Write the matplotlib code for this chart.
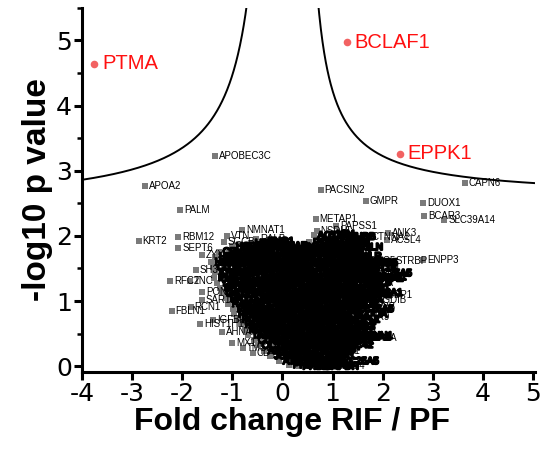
#====================================================================================
# Volcano plot RIF x PF (fold change x -log10 p value)
#====================================================================================
import numpy as np
import matplotlib.pyplot as plt
import matplotlib.patheffects as pe
from matplotlib.ticker import MultipleLocator

plt.rcParams['font.family'] = ['Liberation Sans', 'DejaVu Sans']
plt.rcParams['axes.unicode_minus'] = False

#------------------------------------------------------------------------------------
# Proteinas significativas (vermelho)
sig_genes = ['PTMA', 'BCLAF1', 'EPPK1']
sig_x = [-3.75, 1.29, 2.35]
sig_y = [4.64, 4.97, 3.26]

#------------------------------------------------------------------------------------
# Proteinas com rotulo legivel
named_genes = ['APOBEC3C', 'APOA2', 'PALM', 'KRT2', 'RBM12', 'SEPT6', 'NMNAT1', 'VTN',
               'RALB', 'SGCB', 'GUSBP12', 'ZYX', 'FCGBP', 'SH3BGRL', 'RFC2', 'TNC',
               'PON2', 'SAR1B', 'FBLN1', 'RCN1', 'HIST1H1C', 'IGFBP7', 'AHNAK', 'MX1',
               'TMSB10', 'CD44',
               'PACSIN2', 'GMPR', 'DUOX1', 'BCAR3', 'SLC39A14', 'CAPN6', 'METAP1',
               'PAPSS1', 'NSDHL', 'ANK3', 'ACSL4', 'CTNNA1', 'ENPP3', 'STRBP', 'ABCC5',
               'PHGDH', 'ATP5H', 'TMEM120A', 'TP53BP1', 'ARHGDIB', 'SEC22B', 'SNX9',
               'KIAA0100', 'TMEM45A', 'ANXA1', 'CBX3', 'DH1924']
named_x = [-1.35, -2.74, -2.04, -2.87, -2.08, -2.08, -0.80, -1.11,
           -0.52, -1.17, -0.75, -1.61, -1.04, -1.73, -2.24, -1.85,
           -1.61, -1.61, -2.21, -1.83, -1.64, -1.39, -1.21, -1.01,
           -0.79, -0.59,
           0.76, 1.66, 2.80, 2.82, 3.23, 3.64, 0.66,
           1.07, 0.68, 2.10, 2.08, 1.70, 2.80, 2.18, 1.54,
           1.55, 1.57, 1.12, 1.70, 1.52, 1.43, 1.55,
           0.92, 1.30, 0.85, 0.77, 0.85]
named_y = [3.22, 2.76, 2.40, 1.92, 1.99, 1.81, 2.09, 2.00,
           1.95, 1.91, 1.78, 1.71, 1.66, 1.48, 1.31, 1.30,
           1.14, 1.02, 0.85, 0.91, 0.64, 0.71, 0.53, 0.36,
           0.28, 0.20,
           2.70, 2.53, 2.51, 2.31, 2.24, 2.81, 2.26,
           2.15, 2.07, 2.04, 1.94, 1.99, 1.63, 1.62, 1.62,
           1.53, 1.40, 1.28, 1.10, 1.02, 0.91, 0.76,
           0.55, 0.43, 0.24, 0.14, 0.00]

#------------------------------------------------------------------------------------
# Nuvem central (rotulos sobrepostos)
blob_x = [
    0.62, 0.83, 1.01, 1.26,
    -0.63, -0.38, 0.53, 0.76, 0.94, 1.17,
    -1.01, -0.57, -0.29, 0.16, 0.42, 0.60, 0.85, 1.03, 1.29,
    -1.27, -1.06, -0.80, -0.59, -0.33, -0.12, 0.14, 0.33, 0.59, 0.78, 1.03, 1.21,
    -1.35, -1.13, -0.88, -0.67, -0.42, -0.22, 0.04, 0.23, 0.49, 0.69, 0.94, 1.13, 1.38,
    -1.43, -1.18, -0.97, -0.71, -0.52, -0.26, -0.06, 0.20, 0.39, 0.65, 0.85, 1.10, 1.30, 1.56,
    -1.39, -1.17, -0.91, -0.71, -0.45, -0.25, 0.01, 0.21, 0.47, 0.67, 0.93, 1.12, 1.38, 1.59,
    -1.34, -1.08, -0.88, -0.62, -0.42, -0.16, 0.04, 0.30, 0.50, 0.76, 0.96, 1.22, 1.42, 1.67,
    -1.36, -1.15, -0.89, -0.69, -0.43, -0.23, 0.03, 0.23, 0.49, 0.69, 0.95, 1.15, 1.41, 1.61,
    -1.31, -1.05, -0.85, -0.59, -0.39, -0.13, 0.07, 0.33, 0.53, 0.79, 0.99, 1.25, 1.45,
    -1.25, -1.04, -0.78, -0.58, -0.32, -0.12, 0.14, 0.34, 0.60, 0.80, 1.06, 1.26, 1.53,
    -1.21, -0.95, -0.75, -0.49, -0.29, -0.03, 0.17, 0.43, 0.63, 0.89, 1.09, 1.35, 1.57,
    -1.13, -0.92, -0.66, -0.46, -0.20, 0.00, 0.26, 0.46, 0.72, 0.92, 1.18, 1.39,
    -1.09, -0.83, -0.63, -0.37, -0.17, 0.09, 0.29, 0.55, 0.75, 1.01, 1.21, 1.46,
    -0.99, -0.78, -0.52, -0.32, -0.06, 0.14, 0.40, 0.60, 0.86, 1.06, 1.31,
    -0.96, -0.70, -0.50, -0.24, -0.04, 0.22, 0.42, 0.68, 0.88, 1.14, 1.35,
    -0.89, -0.68, -0.42, -0.22, 0.04, 0.24, 0.50, 0.70, 0.96, 1.16, 1.39,
    -0.83, -0.57, -0.37, -0.11, 0.09, 0.35, 0.55, 0.81, 1.01, 1.26,
    -0.75, -0.54, -0.28, -0.08, 0.18, 0.38, 0.64, 0.84, 1.10, 1.27,
    -0.69, -0.43, -0.23, 0.03, 0.23, 0.49, 0.69, 0.95, 1.15, 1.33,
    -0.57, -0.36, -0.10, 0.10, 0.36, 0.56, 0.82, 1.02, 1.23,
    -0.49, -0.23, -0.03, 0.23, 0.43, 0.69, 0.89, 1.09,
    -0.37, -0.16, 0.10, 0.30, 0.56, 0.76, 0.99,
    -0.25, 0.01, 0.21, 0.47, 0.67, 0.92,
    -0.07, 0.14, 0.40, 0.60, 0.86, 1.01,
    0.13, 0.32, 0.56, 0.75, 0.99,
]
blob_y = [
    2.01, 1.98, 2.03, 1.99,
    1.89, 1.92, 1.90, 1.88, 1.91, 1.89,
    1.84, 1.82, 1.85, 1.83, 1.80, 1.84, 1.82, 1.85, 1.83,
    1.76, 1.74, 1.77, 1.75, 1.73, 1.76, 1.74, 1.77, 1.75, 1.73, 1.76, 1.74,
    1.68, 1.66, 1.69, 1.67, 1.65, 1.68, 1.66, 1.69, 1.67, 1.65, 1.68, 1.66, 1.69,
    1.60, 1.58, 1.61, 1.59, 1.57, 1.60, 1.58, 1.61, 1.59, 1.57, 1.60, 1.58, 1.61, 1.59,
    1.52, 1.50, 1.53, 1.51, 1.49, 1.52, 1.50, 1.53, 1.51, 1.49, 1.52, 1.50, 1.53, 1.51,
    1.44, 1.42, 1.45, 1.43, 1.41, 1.44, 1.42, 1.45, 1.43, 1.41, 1.44, 1.42, 1.45, 1.43,
    1.36, 1.34, 1.37, 1.35, 1.33, 1.36, 1.34, 1.37, 1.35, 1.33, 1.36, 1.34, 1.37, 1.35,
    1.28, 1.26, 1.29, 1.27, 1.25, 1.28, 1.26, 1.29, 1.27, 1.25, 1.28, 1.26, 1.29,
    1.20, 1.18, 1.21, 1.19, 1.17, 1.20, 1.18, 1.21, 1.19, 1.17, 1.20, 1.18, 1.21,
    1.12, 1.10, 1.13, 1.11, 1.09, 1.12, 1.10, 1.13, 1.11, 1.09, 1.12, 1.10, 1.13,
    1.04, 1.02, 1.05, 1.03, 1.01, 1.04, 1.02, 1.05, 1.03, 1.01, 1.04, 1.02,
    0.96, 0.94, 0.97, 0.95, 0.93, 0.96, 0.94, 0.97, 0.95, 0.93, 0.96, 0.94,
    0.88, 0.86, 0.89, 0.87, 0.85, 0.88, 0.86, 0.89, 0.87, 0.85, 0.88,
    0.80, 0.78, 0.81, 0.79, 0.77, 0.80, 0.78, 0.81, 0.79, 0.77, 0.80,
    0.72, 0.70, 0.73, 0.71, 0.69, 0.72, 0.70, 0.73, 0.71, 0.69, 0.72,
    0.64, 0.62, 0.65, 0.63, 0.61, 0.64, 0.62, 0.65, 0.63, 0.61,
    0.56, 0.54, 0.57, 0.55, 0.53, 0.56, 0.54, 0.57, 0.55, 0.53,
    0.48, 0.46, 0.49, 0.47, 0.45, 0.48, 0.46, 0.49, 0.47, 0.45,
    0.40, 0.38, 0.41, 0.39, 0.37, 0.40, 0.38, 0.41, 0.39,
    0.32, 0.30, 0.33, 0.31, 0.29, 0.32, 0.30, 0.33,
    0.24, 0.22, 0.25, 0.23, 0.21, 0.24, 0.22,
    0.16, 0.14, 0.17, 0.15, 0.13, 0.16,
    0.08, 0.06, 0.09, 0.07, 0.05, 0.08,
    0.02, 0.00, 0.01, 0.00, 0.02,
]
blob_genes = ['ACTB', 'GAPDH', 'VIM', 'TUBB', 'HSPA8', 'ENO1', 'PKM', 'LDHA', 'ALDOA',
              'PGK1', 'HSP90AB1', 'EEF1A1', 'YWHAZ', 'ANXA2', 'S100A6', 'LMNA', 'MYH9',
              'FLNA', 'TAGLN', 'CFL1', 'PFN1', 'TPM1', 'CALD1', 'ACTN4', 'CAPZB',
              'SPTBN1', 'VCL', 'TLN1', 'RPLP0', 'RPS3', 'RPL7', 'HNRNPA1', 'HNRNPK',
              'NPM1', 'NCL', 'PRDX1', 'PRDX2', 'SOD1', 'GSTP1', 'TKT', 'TALDO1', 'PPIA',
              'PPIB', 'CALR', 'HSPA5', 'PDIA3', 'P4HB', 'CANX', 'SERPINH1', 'COL1A1',
              'COL6A1', 'FN1', 'LGALS1', 'TXN', 'PARK7', 'UBB', 'PSMA1', 'PSMB5', 'CCT2',
              'CCT5', 'TCP1', 'EIF4A1', 'EIF5A', 'RAN', 'RAC1', 'RHOA', 'CDC42', 'ARF1',
              'GDI2', 'SFN', 'KRT8', 'KRT18', 'KRT19', 'DSP', 'JUP', 'PKP3', 'CLIC1',
              'ANXA5', 'MDH2', 'IDH1', 'ATP5A1', 'VDAC1', 'HADHA', 'ACO2', 'CS',
              'SLC25A5', 'PHB', 'PHB2']
assert len(blob_x) == len(blob_y)

# Curva de corte (y = y0 + c / (|x| - x0)), ramo esquerdo e direito
curve_left = {'x0': 0.16, 'c': 1.73, 'y0': 2.41}
curve_right = {'x0': 0.36, 'c': 1.05, 'y0': 2.585}

#====================================================================================
#                                     Plot
#------------------------------------------------------------------------------------
fig = plt.figure(figsize=(5.5, 4.63), dpi=100)
ax = fig.add_axes([0.149, 0.1965, 0.824, 0.7865])

all_x = blob_x + named_x
all_y = blob_y + named_y
ax.scatter(all_x, all_y, marker='s', s=16, color='#7a7a7a', linewidths=0, zorder=2)

label_dx = 0.08
thick = [pe.withStroke(linewidth=1.6, foreground='black')]
for i, (x, y) in enumerate(zip(blob_x, blob_y)):
    ax.text(x + label_dx, y, blob_genes[i % len(blob_genes)], fontsize=7,
            va='center', ha='left', color='black', zorder=3, path_effects=thick)
for g, x, y in zip(named_genes, named_x, named_y):
    ax.text(x + label_dx, y, g, fontsize=7, va='center', ha='left', color='black', zorder=3)

# significativos
ax.scatter(sig_x, sig_y, marker='o', s=30, color='#f26262', linewidths=0, zorder=4)
for g, x, y in zip(sig_genes, sig_x, sig_y):
    ax.text(x + 0.15, y, g, fontsize=14.5, va='center', ha='left', color='#ff1010', zorder=4)

# curvas
xl = np.linspace(-4.0, -0.69, 400)
ax.plot(xl, curve_left['y0'] + curve_left['c'] / (-xl - curve_left['x0']), color='black', lw=1.4, zorder=5)
xr = np.linspace(0.70, 5.05, 400)
ax.plot(xr, curve_right['y0'] + curve_right['c'] / (xr - curve_right['x0']), color='black', lw=1.4, zorder=5)

#------------------------------------------------------------------------------------
# Eixos
ax.set_xlim(-4, 5.04)
ax.set_ylim(-0.09, 5.5)
ax.set_xticks(np.arange(-4, 6, 1))
ax.set_yticks(np.arange(0, 6, 1))
ax.yaxis.set_minor_locator(MultipleLocator(0.5))
for s in ['top', 'right']:
    ax.spines[s].set_visible(False)
for s in ['left', 'bottom']:
    ax.spines[s].set_linewidth(2.2)
ax.tick_params(which='major', length=6, width=2.2, labelsize=18, pad=1)
ax.tick_params(which='minor', length=3.5, width=1.8)
for lab in ax.get_xticklabels() + ax.get_yticklabels():
    lab.set_family('DejaVu Sans')
ax.set_xlabel('Fold change RIF / PF', fontsize=23, fontweight='bold')
ax.set_ylabel('-log10 p value', fontsize=24, fontweight='bold', labelpad=2)
ax.xaxis.set_label_coords(0.464, -0.097)

fig.savefig('out.png', dpi=100)
